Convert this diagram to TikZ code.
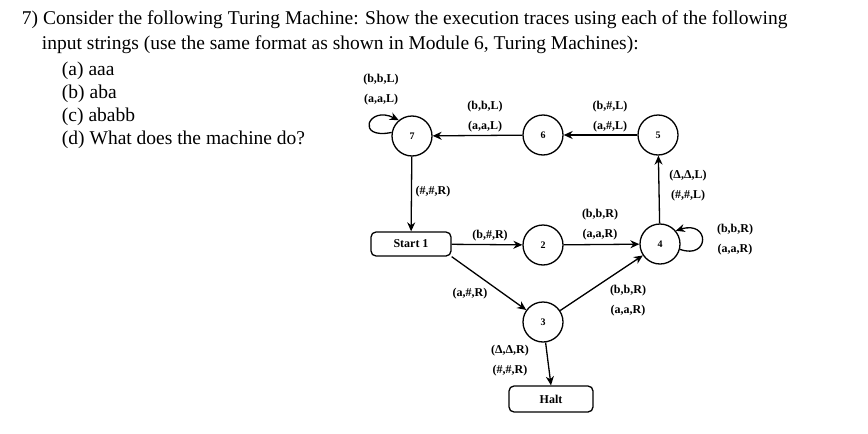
\documentclass[tikz,border=0pt]{standalone}
\usepackage{fontspec}
\setmainfont{Liberation Serif}
\usetikzlibrary{positioning,arrows.meta}

\begin{document}
\begin{tikzpicture}[%
    x=1pt,
    y=-1pt,
    ->,
    >={Stealth[length=9pt,width=8pt]},
    line width=1.3pt,
    state/.style={%
      circle,
      draw,
      minimum size=40pt,
      inner sep=0pt,
      font=\bfseries\fontsize{10}{10}\selectfont
    },
    box/.style={%
      rectangle,
      rounded corners=5pt,
      draw,
      minimum width=80pt,
      minimum height=24pt,
      font=\bfseries\fontsize{12}{12}\selectfont
    },
    lbl/.style={%
      align=center,
      font=\bfseries\fontsize{12}{20}\selectfont
    }
  ]
    \useasboundingbox (0,0) rectangle (868,434);
    % question text
    \node[anchor=west, font=\fontsize{19.5}{19.5}\selectfont] (q1) at (18,20) {7) Consider the following Turing Machine: Show the execution traces using each of the following};
    \node[anchor=west, font=\fontsize{19.5}{19.5}\selectfont] (q2) at (38,45) {input strings (use the same format as shown in Module 6, Turing Machines):};
    \node[anchor=west, font=\fontsize{19.5}{23}\selectfont, align=left] (q3) at (58,105) {(a) aaa\\(b) aba\\(c) ababb\\(d) What does the machine do?};

    % states
    \node[state] (7) at (412,136) {7};
    \node[state] (6) at (543,135) {6};
    \node[state] (5) at (658,135) {5};
    \node[box]   (start) at (411,244) {Start 1};
    \node[state] (2) at (543,245) {2};
    \node[state] (4) at (660,244) {4};
    \node[state] (3) at (543,322) {3};
    \node[box, minimum width=84pt, minimum height=26pt] (halt) at (551,399) {Halt};

    \draw (7.170) .. controls (355,140) and (368,105) .. (7.130);
    \draw (6) -- (7);
    \draw (5) -- (6);
    \draw (7) -- (start);
    \draw (start) -- (2);
    \draw (2) -- (4);
    \draw (start.south east) -- (3);
    \draw (3) -- (4);
    \draw (4) -- (5);
    \draw (3) -- (halt.north);
    \draw (4.-15) .. controls (710,260) and (710,220) .. (4.40);

    % labels
    \node[lbl] (l77) at (381,90) {(b,b,L)\\(a,a,L)};
    \node[lbl] (l67) at (485,117) {(b,b,L)\\(a,a,L)};
    \node[lbl] (l56) at (610,117) {(b,\#,L)\\(a,\#,L)};
    \node[lbl] (l7s) at (433,192) {(\#,\#,R)};
    \node[lbl] (l45) at (688,186) {(Δ,Δ,L)\\(\#,\#,L)};
    \node[lbl] (l2) at (490,236) {(b,\#,R)};
    \node[lbl] (l24) at (600,225) {(b,b,R)\\(a,a,R)};
    \node[lbl] (l44) at (735,240) {(b,b,R)\\(a,a,R)};
    \node[lbl] (l3) at (470,294) {(a,\#,R)};
    \node[lbl] (l34) at (628,301) {(b,b,R)\\(a,a,R)};
    \node[lbl] (l3h) at (510,361) {(Δ,Δ,R)\\(\#,\#,R)};
  \end{tikzpicture}
\end{document}
